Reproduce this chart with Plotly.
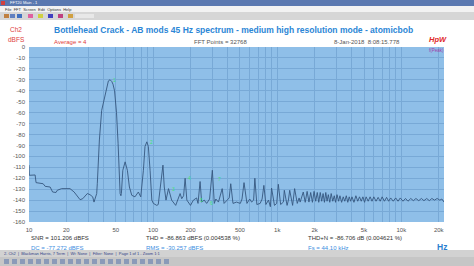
import math
import plotly.graph_objects as go

# ---------------- data ----------------
freq_hz = [10, 10.06, 11.2, 11.4, 13.0, 13.5, 14.8, 15.5, 16.5, 16.9, 18.3, 21.4, 23.1, 24.5,
           25.8, 27.1, 29.5, 31, 32.6, 33.4, 35.1, 35.5, 36.9, 38.5, 40.2, 42.3, 43.6, 44.2,
           45.0, 46.4, 47.5, 48.9, 50.7, 52.2, 53.3, 54.2, 55.0,
           55.5, 57, 59.5, 62, 64.4, 67.3, 71.4, 76, 79.5, 83.5, 86, 89, 91.5, 94.5, 97.6,
           100.5, 107, 110, 115, 120, 123, 127, 133, 137, 141, 152, 165, 170, 176, 181, 187,
           200, 211, 224, 230, 239, 246, 258, 270, 285, 300, 311, 320, 336, 360, 373, 392,
           410, 422, 440, 470, 504, 520, 540, 570, 600, 622, 645, 660, 685, 728, 755, 780,
           810, 850, 880, 900, 950, 990, 1020, 1065, 1120, 1140, 1200, 1230, 1260, 1330,
           1380, 1450, 1500, 1530, 1620, 1680, 1740, 1800, 1860, 1920, 1980, 2040, 2100,
           2160, 2220, 2280, 2340, 2400, 2460, 2520, 2580, 2650, 2720, 2800, 2880, 2950,
           3030, 3120, 3200, 3300, 3400, 3500, 3600, 3700, 3800, 3900, 4000, 4150, 4300,
           4450, 4600, 4750, 4900, 5050, 5200, 5400, 5600, 5800, 6000, 6250, 6500, 6750,
           7000, 7300, 7600, 7900, 8200, 8600, 9000, 9400, 9800, 10300, 10800, 11300,
           11900, 12500, 13100, 13800, 14500, 15200, 16000, 16800, 17600, 18500, 19400,
           20400, 21200, 22050]
level_dbfs = [-108, -117.3, -117, -124, -125, -127.4, -128, -132.6, -133, -131, -129.5, -129.5,
              -132.6, -137, -139.6, -138.7, -134, -135, -137, -141.8, -134, -125, -85, -58,
              -48, -36, -31, -30.5, -30, -31.5, -34, -40, -60, -88, -120, -134, -136,
              -134, -112.7, -105, -112.7, -128, -135.6, -137, -132.6, -137, -112.7, -91, -86.7,
              -91, -112.7, -140, -143, -144.8, -144, -128, -108, -128, -140, -129.5, -135.6,
              -140, -144.8, -134, -138.7, -136, -120, -140, -144.8, -140, -138, -143, -123,
              -141.8, -140, -143, -139, -112.7, -143, -139, -141.8, -129.5, -143, -140, -138,
              -125, -143, -141.8, -143, -139, -124, -143, -139, -141.8, -140, -120, -144,
              -143, -139, -126.5, -144, -140, -146, -129, -144.8, -143, -125.5, -144, -141.8,
              -131, -144.8, -140, -131, -144.8, -129.5, -143, -138, -141.8, -132.6, -142, -132,
              -141.8, -133, -142, -132, -141, -133, -142, -133, -141, -134, -142, -133, -141,
              -135, -142, -134, -141, -136, -142, -135, -141, -136, -142, -137, -141, -136,
              -142, -137, -141, -137, -142, -136, -141, -137, -141, -137, -142, -137, -141,
              -137, -141, -137, -141, -137.5, -141, -137, -141, -137.5, -141, -138, -141,
              -138, -141, -138, -141, -138.5, -141, -138.5, -140.5, -138.5, -140.5, -138.5,
              -140.5, -138.5, -140.5, -138.5, -140, -138.5, -140, -139, -141.8]

harm_labels = ["1", "2", "3", "4", "5", "6", "7"]
harm_freqs = [45, 90, 135, 180, 225, 270, 315]
harm_levels = [-30, -87, -130, -120, -140, -143, -121]

x_label_vals = [10, 20, 50, 100, 200, 500, 1000, 2000, 5000, 10000, 20000]
x_label_text = ["10", "20", "50", "100", "200", "500", "1k", "2k", "5k", "10k", "20k"]
y_tick_vals = list(range(0, -161, -10))
y_tick_text = [str(v) for v in y_tick_vals]

title_text = "Bottlehead Crack - AB mods 45 Hz spectrum - medium high resolution mode - atomicbob"
stats_row1 = ["SNR = 101.206 dBFS", "THD = -86.863 dBFS (0.004538 %)", "THD+N = -86.706 dB (0.004621 %)"]
stats_row2 = ["DC = -77.272 dBFS", "RMS = -30.257 dBFS", "Fs = 44.10 kHz"]

# ---------------- layout helpers ----------------
W, H = 474, 266
L, R, T, B = 29, 444, 47, 222
FONT = "Liberation Sans, Arial, sans-serif"


def px(x):
    return (x - L) / (R - L)


def py(y):
    return (B - y) / (B - T)


grid_vals = [m * 10 ** e for e in range(1, 5) for m in range(1, 10) if m * 10 ** e <= 22050]
grid_text = [x_label_text[x_label_vals.index(v)] if v in x_label_vals else "" for v in grid_vals]

fig = go.Figure()
fig.add_trace(go.Scatter(x=freq_hz, y=level_dbfs, mode="lines",
                         line=dict(color="#36577f", width=0.9), hoverinfo="skip",
                         showlegend=False))

annotations = []


def txt(x, y, s, size=6, color="#444444", bold=False, italic=False, anchor="left"):
    if bold:
        s = "<b>" + s + "</b>"
    if italic:
        s = "<i>" + s + "</i>"
    annotations.append(dict(x=px(x), y=py(y), xref="paper", yref="paper", text=s,
                            showarrow=False, xanchor=anchor, yanchor="middle",
                            font=dict(family=FONT, size=size, color=color)))


# harmonic markers
for lab, f, lv in zip(harm_labels, harm_freqs, harm_levels):
    annotations.append(dict(x=math.log10(f), y=lv, xref="x", yref="y", text=lab,
                            showarrow=False, xanchor="left", yanchor="middle", xshift=1,
                            font=dict(family=FONT, size=5, color="#3fe07c")))

txt(52, 30, title_text, size=8.5, color="#2b86d6", bold=True)
txt(8, 29.5, "Ch2", size=6.5, color="#e0403c")
txt(6, 39.5, "dBFS", size=6.5, color="#e0403c")
txt(52, 42, "Average = 4", size=6, color="#e0403c")
txt(192, 42, "FFT Points = 32768", size=6, color="#555555")
txt(332, 42, "8-Jan-2018  8:08:15.778", size=6, color="#555555")
txt(427, 40, "HpW", size=7.5, color="#e02828", bold=True, italic=True)
txt(427, 50.5, "f(Peak)", size=4.5, color="#a040a8")

for i, xx in enumerate([29, 144, 306]):
    txt(xx, 238, stats_row1[i], size=6, color="#333333")
    txt(xx, 247.5, stats_row2[i], size=6, color="#3c8ee0")
txt(435, 247, "Hz", size=8.5, color="#2b7fd0", bold=True)

# window chrome
shapes = []


def rect(x0, y0, x1, y1, color):
    shapes.append(dict(type="rect", xref="paper", yref="paper", x0=px(x0), x1=px(x1),
                       y0=py(y1), y1=py(y0), fillcolor=color, line=dict(width=0), layer="below"))


rect(0, 0, 474, 6, "#5a78b0")
rect(0, 6, 474, 12, "#f2f2f2")
rect(0, 12, 474, 20, "#d6d6d6")
rect(0, 250, 474, 257, "#d2d2d2")
rect(0, 257, 474, 266, "#c6c6c6")
rect(1, 1, 5, 5, "#d04040")
for xi, c in [(4, "#c08040"), (10, "#6080c0"), (17, "#4070c0"), (28, "#e060a0"), (38, "#d0d040"),
              (48, "#4040c0"), (58, "#c04080"), (68, "#d0a040")]:
    rect(xi, 14, xi + 5, 18, c)
rect(75, 14, 94, 18, "#e8e8e8")
for xi in range(4, 170, 8):
    rect(xi, 259, xi + 5, 264, "#8a9ab8")
txt(8, 2.8, "FFT20 Main - 1", size=4, color="#ffffff")
txt(3, 9, "File  FFT  Screen  Edit  Options  Help", size=4, color="#333333")
txt(2, 253.5, "2. Ch2  |  Blackman Harris, 7 Term  |  Wt: None  |  Filter: None  |  Page 1 of 1 - Zoom 1:1",
    size=4, color="#334488")

fig.update_layout(
    width=W, height=H,
    margin=dict(l=L, r=W - R, t=T, b=H - B, pad=0),
    paper_bgcolor="#ffffff",
    plot_bgcolor="#8fbfe8",
    showlegend=False,
    annotations=annotations,
    shapes=shapes,
    font=dict(family=FONT, size=6, color="#555555"),
)
fig.update_xaxes(type="log", range=[1, math.log10(22050)], tickmode="array",
                 tickvals=grid_vals, ticktext=grid_text, showgrid=True,
                 gridcolor="#78a9d6", gridwidth=1, zeroline=False, ticks="",
                 ticklabelstandoff=3,
                 tickfont=dict(family=FONT, size=6, color="#555555"), showline=False)
fig.update_yaxes(range=[-160, 0], tickmode="array", tickvals=y_tick_vals, ticktext=y_tick_text,
                 showgrid=True, gridcolor="#78a9d6", gridwidth=1, zeroline=False, ticks="",
                 ticklabelstandoff=3,
                 tickfont=dict(family=FONT, size=6, color="#555555"), showline=False)

fig.write_html("out.html")
